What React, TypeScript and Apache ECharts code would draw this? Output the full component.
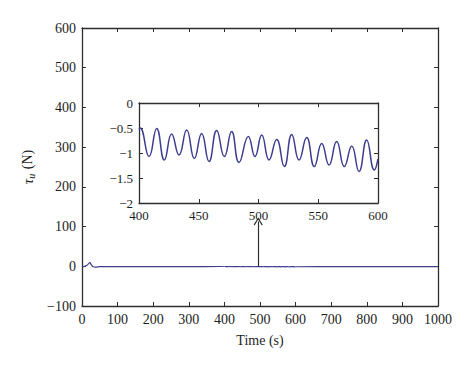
import React, { useEffect, useRef } from "react";
import * as echarts from "echarts";

// Main plot: transient at start + steady part (value ~ -1 N)
const mainTime = [0, 4, 8, 13, 18, 22, 26, 31, 38, 50, 100, 200, 300, 400];
const mainValue = [0, -1, 0, 2, 6, 9, 4, -1, -2, -1, -1, -0.9, -0.9, -0.6];
const mainTailTime = [600, 700, 800, 900, 1000];
const mainTailValue = [-1.1, -1, -1.1, -1, -1];

// Inset (zoom 400-600 s): peaks and troughs
const insetTime = [400, 401, 408.4, 414.8, 421.2, 427.3, 433.5, 439.9, 446.3, 452.4, 458.6, 465, 471.4, 477.5, 483.7, 491.5, 497, 502.7, 508.8, 515.2, 521.6, 527.8, 533.9, 540.3, 546.7, 552.9, 559, 565.4, 571.8, 578, 584.1, 590.5, 596.9, 600];
const insetValue = [-0.53, -0.5, -1.07, -0.51, -1.14, -0.62, -1.04, -0.54, -1.11, -0.61, -1.17, -0.55, -1.07, -0.57, -1.19, -0.67, -1.07, -0.64, -1.14, -0.73, -1.27, -0.63, -1.14, -0.69, -1.27, -0.81, -1.24, -0.77, -1.27, -0.86, -1.37, -0.74, -1.34, -1.12];

const arrowX = 495;
const arrowTop = 113;

const FONT = "'Liberation Serif', 'DejaVu Serif', serif";
const AXIS = "#2e2e2e";
const LINE = "#3d3d8f";

const fmt = (v: number) => String(v).replace("-", "\u2212");

export default function App() {
  const ref = useRef<HTMLDivElement>(null);
  useEffect(() => {
    if (!ref.current) return;
    const chart = echarts.init(ref.current, undefined, { renderer: "svg" });
    const mainData = [
      ...mainTime.map((t, i) => [t, mainValue[i]]),
      ...insetTime.map((t, i) => [t, insetValue[i]]),
      ...mainTailTime.map((t, i) => [t, mainTailValue[i]]),
    ];
    const insetData = insetTime.map((t, i) => [t, insetValue[i]]);
    const axisLine = { show: true, onZero: false, lineStyle: { color: AXIS, width: 1.3 } };
    const tickIn = { show: true, inside: true, length: 4, lineStyle: { color: AXIS, width: 1 } };
    const label = (size: number, margin: number) => ({
      color: "#1e1e1e",
      fontFamily: FONT,
      fontSize: size,
      margin,
      formatter: (v: number) => fmt(v),
    });
    chart.setOption({
      animation: false,
      backgroundColor: "#fff",
      grid: [
        { left: 82, right: 36, top: 28, bottom: 63, show: false },
        { left: 139, top: 103, width: 239, height: 100, show: true, backgroundColor: "#fff", borderWidth: 0, z: 5 },
      ],
      xAxis: [
        {
          gridIndex: 0, type: "value", min: 0, max: 1000, interval: 100, position: "bottom",
          axisLine, axisTick: tickIn, splitLine: { show: false }, axisLabel: label(14, 6),
          name: "Time (s)", nameLocation: "middle", nameGap: 27,
          nameTextStyle: { fontFamily: FONT, fontSize: 14, color: "#1e1e1e" },
        },
        {
          gridIndex: 0, type: "value", min: 0, max: 1000, interval: 100, position: "top",
          axisLine, axisTick: tickIn, splitLine: { show: false }, axisLabel: { show: false },
        },
        {
          gridIndex: 1, type: "value", min: 400, max: 600, interval: 50, position: "bottom",
          axisLine, axisTick: tickIn, splitLine: { show: false }, axisLabel: label(13, 6), z: 6,
        },
        {
          gridIndex: 1, type: "value", min: 400, max: 600, interval: 50, position: "top",
          axisLine, axisTick: tickIn, splitLine: { show: false }, axisLabel: { show: false }, z: 6,
        },
      ],
      yAxis: [
        {
          gridIndex: 0, type: "value", min: -100, max: 600, interval: 100, position: "left",
          axisLine, axisTick: tickIn, splitLine: { show: false }, axisLabel: label(14, 6),
          name: "{t|\u03c4}{s|u} (N)", nameLocation: "middle", nameGap: 44,
          nameTextStyle: {
            fontFamily: FONT, fontSize: 14, color: "#1e1e1e",
            rich: {
              t: { fontFamily: FONT, fontSize: 15, fontStyle: "italic", color: "#1e1e1e" },
              s: { fontFamily: FONT, fontSize: 10, fontStyle: "italic", color: "#1e1e1e", padding: [7, 1, 0, 0] },
            },
          },
        },
        {
          gridIndex: 0, type: "value", min: -100, max: 600, interval: 100, position: "right",
          axisLine, axisTick: tickIn, splitLine: { show: false }, axisLabel: { show: false },
        },
        {
          gridIndex: 1, type: "value", min: -2, max: 0, interval: 0.5, position: "left",
          axisLine, axisTick: tickIn, splitLine: { show: false }, axisLabel: label(13, 6), z: 6,
        },
        {
          gridIndex: 1, type: "value", min: -2, max: 0, interval: 0.5, position: "right",
          axisLine, axisTick: tickIn, splitLine: { show: false }, axisLabel: { show: false }, z: 6,
        },
      ],
      series: [
        {
          type: "line", xAxisIndex: 0, yAxisIndex: 0, data: mainData, showSymbol: false,
          smooth: 0.4, lineStyle: { color: LINE, width: 1.2 },
          markLine: {
            silent: true, animation: false,
            symbol: ["none", "path://M5,0 L10,9 L9,10 L5,2.5 L1,10 L0,9 Z"],
            symbolSize: [9, 8],
            label: { show: false },
            lineStyle: { color: AXIS, width: 1.2, type: "solid" },
            data: [[{ coord: [arrowX, 0] }, { coord: [arrowX, arrowTop] }]],
          },
        },
        {
          type: "line", xAxisIndex: 2, yAxisIndex: 2, data: insetData, showSymbol: false,
          smooth: 0.5, lineStyle: { color: LINE, width: 1.5 }, z: 7,
        },
      ],
    });
    return () => chart.dispose();
  }, []);
  return <div ref={ref} style={{ position: "fixed", left: 0, top: 0, width: 474, height: 369 }} />;
}
